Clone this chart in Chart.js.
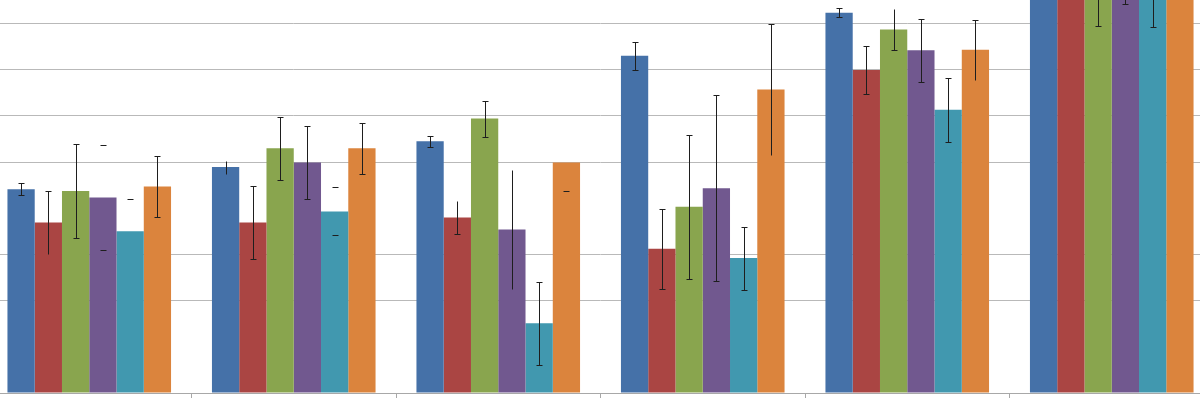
<!DOCTYPE html>
<html>
<head>
<meta charset="utf-8">
<script src="https://cdn.jsdelivr.net/npm/chart.js@4/dist/chart.umd.min.js"></script>
<style>
html,body{margin:0;padding:0;background:#fff;}
#frame{position:relative;width:1200px;height:399px;overflow:hidden;}
#wrap{position:absolute;left:-13px;top:-69px;width:1227px;height:467px;}
</style>
</head>
<body>
<div id="frame"><div id="wrap"><canvas id="chart"></canvas></div></div>
<script>
// ── DATA ─────────────────────────────────────────────────
const groups = ['1','2','3','4','5','6'];
const seriesNames = ['Series 1','Series 2','Series 3','Series 4','Series 5','Series 6'];
const colors = ['#4571a8','#aa4543','#89a54e','#71588f','#4198af','#db843d'];

const blue   = [4.41, 4.89, 5.45, 7.30, 8.23, 9.20];
const red    = [3.69, 3.69, 3.80, 3.12, 6.99, 9.10];
const green  = [4.37, 5.30, 5.94, 4.03, 7.87, 9.00];
const purple = [4.23, 4.99, 3.54, 4.43, 7.42, 9.00];
const teal   = [3.50, 3.93, 1.51, 2.92, 6.13, 9.00];
const orange = [4.47, 5.30, 4.99, 6.57, 7.43, 9.20];

// ± error per bar
const blueErr   = [0.13, 0.14, 0.12, 0.30, 0.10, 0.20];
const redErr    = [0.68, 0.79, 0.35, 0.86, 0.52, 0.30];
const greenErr  = [1.02, 0.68, 0.39, 1.56, 0.45, 1.05];
const purpleErr = [1.14, 0.79, 1.29, 2.01, 0.68, 0.57];
const tealErr   = [0.70, 0.52, 0.90, 0.68, 0.69, 1.07];
const orangeErr = [0.66, 0.55, 0.62, 1.42, 0.65, 0.40];

// how each error bar is drawn: both | line | caps | top | bottom | lineTop | lineBottom
const blueErrStyle   = ['both','line','both','both','both','both'];
const redErrStyle    = ['lineTop','both','lineBottom','both','both','both'];
const greenErrStyle  = ['both','both','both','both','lineBottom','lineBottom'];
const purpleErrStyle = ['caps','both','line','both','both','both'];
const tealErrStyle   = ['top','caps','both','both','both','lineBottom'];
const orangeErrStyle = ['both','both','bottom','lineTop','lineTop','both'];

const yTicks = [0,1,2,3,4,5,6,7,8,9,10];
const hiddenGrid = [0,1,4];

const values = [blue,red,green,purple,teal,orange];
const errs = [blueErr,redErr,greenErr,purpleErr,tealErr,orangeErr];
const errStyles = [blueErrStyle,redErrStyle,greenErrStyle,purpleErrStyle,tealErrStyle,orangeErrStyle];

// ── ERROR BARS ───────────────────────────────────────────
const errorBars = {
    id:'errorBars',
    afterDatasetsDraw(chart){
        const ctx = chart.ctx, y = chart.scales.y, cap = 3;
        ctx.save();
        ctx.strokeStyle = '#1e1e1e';
        ctx.lineWidth = 1;
        chart.data.datasets.forEach((ds,i)=>{
            chart.getDatasetMeta(i).data.forEach((bar,j)=>{
                const v = ds.data[j], e = ds.err[j], st = ds.errStyle[j];
                const x = Math.round(bar.x)+0.5;
                const yt = Math.round(y.getPixelForValue(v+e))+0.5;
                const yb = Math.round(y.getPixelForValue(v-e))+0.5;
                ctx.beginPath();
                if(['both','line','lineTop','lineBottom'].includes(st)){ctx.moveTo(x,yt);ctx.lineTo(x,yb);}
                if(['both','caps','top','lineTop'].includes(st)){ctx.moveTo(x-cap,yt);ctx.lineTo(x+cap,yt);}
                if(['both','caps','bottom','lineBottom'].includes(st)){ctx.moveTo(x-cap,yb);ctx.lineTo(x+cap,yb);}
                ctx.stroke();
            });
        });
        ctx.restore();
    }
};

// ── CHART ────────────────────────────────────────────────
new Chart(document.getElementById('chart'),{
    type:'bar',
    data:{
        labels:groups,
        datasets:seriesNames.map((n,i)=>({
            label:n, data:values[i], err:errs[i], errStyle:errStyles[i],
            backgroundColor:colors[i], borderWidth:0,
            categoryPercentage:0.8, barPercentage:1
        }))
    },
    options:{
        responsive:true, maintainAspectRatio:false, animation:false,
        layout:{padding:0},
        plugins:{legend:{display:false},tooltip:{enabled:false}},
        scales:{
            x:{
                ticks:{display:false},
                grid:{drawOnChartArea:false,tickLength:5,color:'#a8a8a8',offset:true},
                border:{color:'#a8a8a8',width:1}
            },
            y:{
                display:true, min:0, max:10,
                afterBuildTicks:s=>{s.ticks=yTicks.map(v=>({value:v}));},
                ticks:{display:false},
                grid:{drawTicks:false,color:c=>hiddenGrid.includes(c.tick.value)?'rgba(0,0,0,0)':'#b9b9b9'},
                border:{display:false}
            }
        }
    },
    plugins:[errorBars]
});
</script>
</body>
</html>
